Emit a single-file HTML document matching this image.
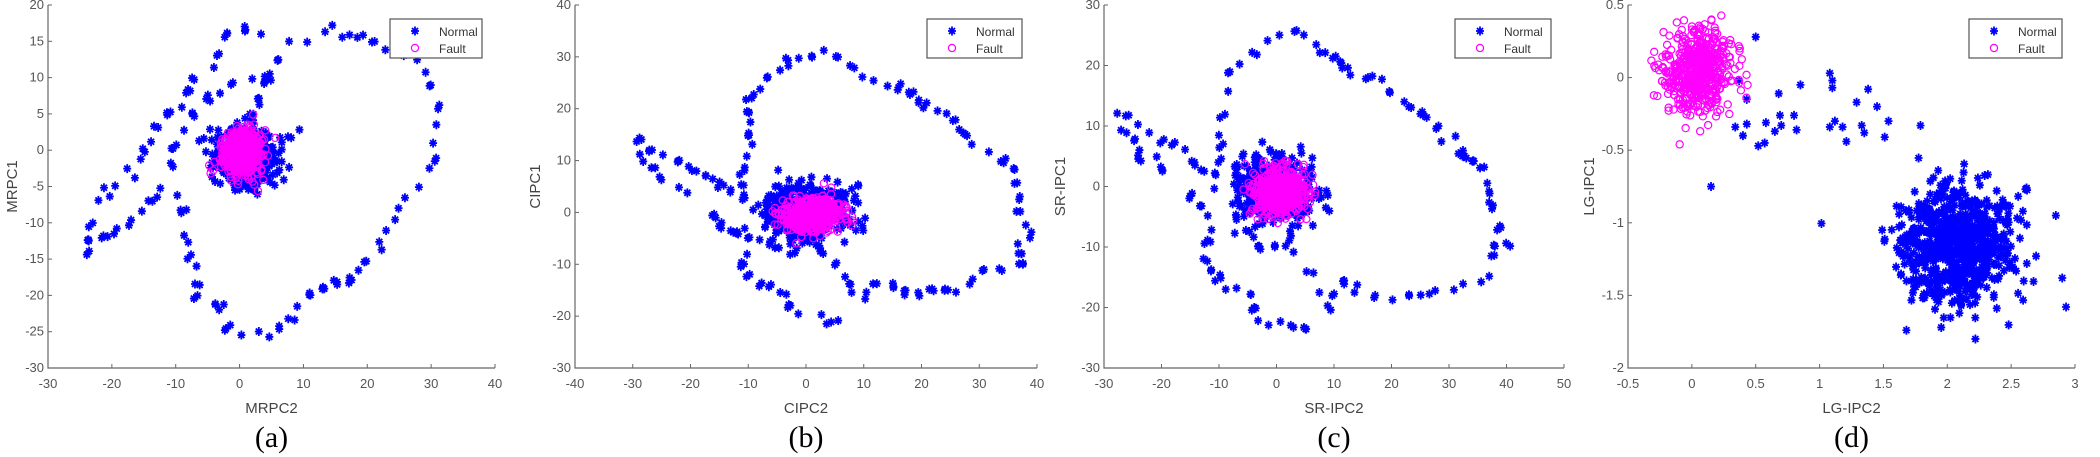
<!DOCTYPE html>
<html><head><meta charset="utf-8"><style>
html,body{margin:0;padding:0;background:#fff;}
svg{display:block;font-family:"Liberation Sans",sans-serif;}
</style></head><body>
<svg id="s" width="2100" height="457" xmlns="http://www.w3.org/2000/svg">
<defs>
<path id="st" d="M-4,0h8M0,-4.5v9M-3,-3l6,6M-3,3l6,-6" stroke="#0000ff" stroke-width="1.8" fill="none"/>
<circle id="ci" r="3.6" stroke="#ff00ff" stroke-width="1.2" fill="none"/>
</defs>
<g id="g"></g>
</svg>
<script>
var NS="http://www.w3.org/2000/svg",G=document.getElementById('g');
var seed=12345;function r(){seed=(seed*1103515245+12345)%2147483648;return seed/2147483648;}
function n(){var u=r()||1e-6,v=r();return Math.sqrt(-2*Math.log(u))*Math.cos(2*Math.PI*v);}
function el(t,a,txt){var e=document.createElementNS(NS,t);for(var k in a)e.setAttribute(k,a[k]);if(txt!==undefined)e.textContent=txt;G.appendChild(e);return e;}
function panel(P){
 var L=P.L,R=P.R,T=5,B=368;
 function X(x){return L+(x-P.x0)/(P.x1-P.x0)*(R-L);}
 function Y(y){return T+(P.y1-y)/(P.y1-P.y0)*(B-T);}
 P.X=X;P.Y=Y;
 el('path',{d:'M'+L+','+T+'V'+B+'H'+R,stroke:'#666',fill:'none','stroke-width':1.2});
 for(var i=0;i<P.xt.length;i++){var x=X(P.xt[i]);el('path',{d:'M'+x+','+B+'v-4',stroke:'#666'});
  el('text',{x:x,y:B+20,'text-anchor':'middle','font-size':13,fill:'#555'},P.xt[i]);}
 for(i=0;i<P.yt.length;i++){var y=Y(P.yt[i]);el('path',{d:'M'+L+','+y+'h4',stroke:'#666'});
  el('text',{x:L-4,y:y+4,'text-anchor':'end','font-size':13,fill:'#555'},P.yt[i]);}
 el('text',{x:(L+R)/2,y:413,'text-anchor':'middle','font-size':15,fill:'#444'},P.xl);
 el('text',{x:0,y:0,transform:'translate('+(P.yx)+','+(T+B)/2+') rotate(-90)','text-anchor':'middle','font-size':15,fill:'#444'},P.yl);
 el('text',{x:(L+R)/2,y:447,'text-anchor':'middle','font-size':30,fill:'#000','font-family':'Liberation Serif,serif'},P.cap);
}
function star(P,x,y){el('use',{href:'#st',x:P.X(x),y:P.Y(y)});}
function circ(P,x,y){el('use',{href:'#ci',x:P.X(x),y:P.Y(y)});}
function path(P,pts,step,jit){
 for(var i=0;i<pts.length-1;i++){var a=pts[i],b=pts[i+1];var d=Math.hypot(b[0]-a[0],b[1]-a[1]);var k=Math.max(1,Math.round(d/step));
  for(var j=0;j<k;j++){var t=j/k;var x=a[0]+(b[0]-a[0])*t,y=a[1]+(b[1]-a[1])*t;
   var c=1+Math.floor(r()*2.5);for(var m=0;m<c;m++)star(P,x+n()*jit,y+n()*jit);}}
}
function cloud(P,cx,cy,sx,sy,N,f){for(var i=0;i<N;i++)f(P,cx+n()*sx,cy+n()*sy);}
function legend(x0,w){var y0=19;
 el('rect',{x:x0,y:y0,width:w,height:39,fill:'#fff',stroke:'#555','stroke-width':1.2});
 el('use',{href:'#st',x:x0+25,y:y0+12});el('use',{href:'#ci',x:x0+25,y:y0+29});
 el('text',{x:x0+49,y:y0+17,'font-size':12,fill:'#333'},'Normal');
 el('text',{x:x0+49,y:y0+34,'font-size':12,fill:'#333'},'Fault');}

var A={L:48,R:495,x0:-30,x1:40,y0:-30,y1:20,xt:[-30,-20,-10,0,10,20,30,40],yt:[20,15,10,5,0,-5,-10,-15,-20,-25,-30],xl:'MRPC2',yl:'MRPC1',yx:17,cap:'(a)'};
panel(A);
path(A,[[2,5],[4,9],[6,13],[8,15],[11,15],[15,17],[17,16],[21,15],[25,13],[28,12],[30,9],[31,6],[31,1],[30,-3],[28,-5],[25,-8],[23,-11],[22,-13],[20,-15],[17,-17.5],[13,-19],[9,-21],[8,-23.5],[5,-25.5],[3,-25],[0,-25],[-2,-24.5],[-3,-22],[-4,-21],[-7,-20],[-7,-16.5],[-8,-13],[-9,-11],[-9,-8],[-10,-6],[-12,-6],[-15,-8],[-17,-9.5],[-19,-11],[-21,-12],[-24,-13],[-24,-14.5],[-23,-10],[-22,-7],[-21,-6],[-19,-5],[-17,-3],[-15,0],[-13,3],[-11,5],[-9,6],[-8,8],[-7,10],[-4,11],[-3,13],[-2,16],[1,16.5],[3,16],[5,16.5]],2.2,0.35);
path(A,[[-11,-2],[-9,3],[-7,5],[-5,7],[-3,8],[-1,9],[2,10],[4,10],[6,12]],2.3,0.3);
cloud(A,1,-1.2,2.2,2.0,450,star);
cloud(A,0.3,-0.3,1.5,1.6,550,circ);
legend(390,92);

var Bp={L:575,R:1037,x0:-40,x1:40,y0:-30,y1:40,xt:[-40,-30,-20,-10,0,10,20,30,40],yt:[40,30,20,10,0,-10,-20,-30],xl:'CIPC2',yl:'CIPC1',yx:540,cap:'(b)'};
panel(Bp);
path(Bp,[[-11,3],[-11,8],[-10,13],[-10,17],[-10,21],[-8,24],[-5,28],[-1,30],[3,31],[6,30],[8,28],[10,26],[14,25],[18,23],[21,21],[24,19],[27,16],[29,13],[32,12],[34,10],[36,8],[37,3],[37,0],[38,-3],[39,-4],[37,-6],[37,-10],[34,-11],[31,-11],[29,-13],[26,-14.5],[22,-15],[19,-16],[15,-14],[12,-14],[10,-17],[8,-16],[7,-12],[5,-10],[3,-8],[1,-5]],2.3,0.35);
path(Bp,[[-29,14],[-27,12],[-24,11],[-22,10],[-19,8],[-16,6],[-13,4],[-11,3]],2.2,0.35);
path(Bp,[[-30,13],[-28,10],[-26,7],[-25,6],[-22,5],[-20,2]],2.2,0.35);
path(Bp,[[-16,-1],[-13,-3],[-11,-3],[-10,-5],[-11,-8],[-11,-10],[-10,-12],[-8,-14],[-6,-14],[-4,-16],[-3,-18],[-1,-19.5],[2,-20],[4,-21],[6,-20],[8,-20]],2.2,0.35);
path(Bp,[[-15,-3],[-12,-4],[-8,-5],[-5,-7],[-3,-8],[0,-8]],2.3,0.3);
cloud(Bp,0,0,3.6,2.6,450,star);
cloud(Bp,1,-0.5,2.4,1.6,600,circ);
legend(927,95);

var Cp={L:1104,R:1564,x0:-30,x1:50,y0:-30,y1:30,xt:[-30,-20,-10,0,10,20,30,40,50],yt:[30,20,10,0,-10,-20,-30],xl:'SR-IPC2',yl:'SR-IPC1',yx:1065,cap:'(c)'};
panel(Cp);
path(Cp,[[-11,0],[-10,4],[-10,7],[-10,9],[-9,13],[-9,16],[-8,19],[-6,20],[-4,22],[-2,24],[0,25],[3,26],[5,25],[7,23],[8,22],[10,21],[13,19],[16,18],[18,17.5],[20,16],[22,14.5],[25,12],[28,10],[29,8],[31,8],[32,6],[33,5],[36,3],[37,-1],[37,-3],[38,-4],[39,-7],[40,-9],[38,-10],[38,-12],[37,-15],[35,-16],[32,-16],[31,-17],[28,-17],[27,-18],[23,-18],[20,-19],[17,-18],[14,-17],[12,-16],[10,-18],[9,-20],[7,-18],[6,-15],[5,-13],[3,-11],[2,-9],[0,-7]],2.2,0.35);
path(Cp,[[-28,12],[-26,12],[-24,10],[-23,9],[-20,8],[-18,7],[-16,6],[-14,4],[-13,3],[-11,3]],2.2,0.35);
path(Cp,[[-26,9],[-25,8],[-24,6],[-24,5],[-21,4.5],[-20,3],[-18,2]],2.2,0.35);
path(Cp,[[-15,-2],[-13,-3],[-12,-5],[-11,-7],[-12,-9],[-12,-12],[-11,-14],[-10,-15],[-9,-17],[-7,-16],[-5,-18],[-4,-20],[-3,-22],[-2,-23],[1,-22.5],[3,-23],[5,-23.5],[7,-22.5]],2.2,0.35);
path(Cp,[[-7,-5],[-5,-7],[-3,-10],[0,-10],[2,-8]],2.3,0.3);
cloud(Cp,0,-0.5,3.2,2.6,450,star);
cloud(Cp,0.5,-0.8,2.2,1.8,600,circ);
legend(1455,96);

var Dp={L:1628,R:2075,x0:-0.5,x1:3,y0:-2,y1:0.5,xt:[-0.5,0,0.5,1,1.5,2,2.5,3],yt:[0.5,0,-0.5,-1,-1.5,-2],xl:'LG-IPC2',yl:'LG-IPC1',yx:1594,cap:'(d)'};
panel(Dp);
var sc=[[0.5,0.28],[0.37,-0.02],[0.43,-0.15],[0.34,-0.34],[0.43,-0.32],[0.4,-0.4],[0.52,-0.47],[0.57,-0.45],[0.58,-0.31],[0.68,-0.11],[0.69,-0.26],[0.7,-0.33],[0.65,-0.37],[0.8,-0.26],[0.82,-0.36],[0.85,-0.05],[1.08,0.03],[1.1,-0.02],[1.1,-0.07],[1.08,-0.34],[1.12,-0.3],[1.18,-0.34],[1.21,-0.44],[1.29,-0.17],[1.33,-0.33],[1.35,-0.38],[1.38,-0.08],[1.45,-0.2],[1.51,-0.41],[1.54,-0.3],[1.79,-0.33],[0.15,-0.75],[2.85,-0.95],[2.9,-1.38],[2.93,-1.58],[1.68,-1.74],[2.22,-1.8],[1.49,-1.05]];
for(var i=0;i<sc.length;i++)star(Dp,sc[i][0],sc[i][1]);
cloud(Dp,2.07,-1.15,0.22,0.19,750,star);
cloud(Dp,0.05,0.05,0.13,0.15,550,circ);
legend(1969,93);
</script>
</body></html>
